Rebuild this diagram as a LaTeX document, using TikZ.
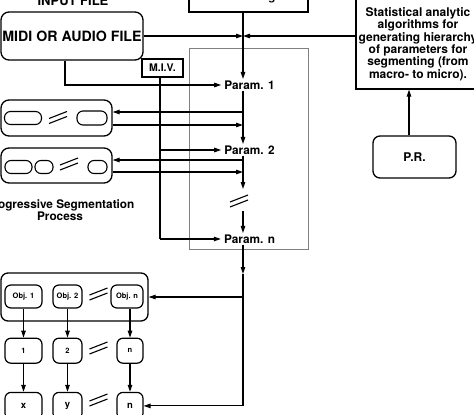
\documentclass[tikz,border=0pt]{standalone}
\usepackage{fontspec}
\setmainfont{TeX Gyre Heros}
\usetikzlibrary{arrows.meta,positioning}
\tikzset{
    flowbox/.style  = {rectangle, draw, line width=1.3pt, rounded corners=8pt,
                       inner sep=0pt, font=\bfseries},
    sqbox/.style    = {rectangle, draw, line width=1.3pt, inner sep=0pt, font=\bfseries},
    segpill/.style  = {rectangle, draw, line width=1.1pt, rounded corners=6pt,
                       minimum height=13pt, inner sep=0pt},
    objbox/.style   = {rectangle, draw, line width=1.2pt, rounded corners=6pt,
                       minimum height=23pt, inner sep=0pt,
                       font=\bfseries\fontsize{7.5}{8}\selectfont},
    paramlbl/.style = {font=\bfseries\fontsize{11.8}{12}\selectfont,
                       inner xsep=3pt, inner ysep=1.5pt},
    flow/.style     = {-{Triangle[length=7pt,width=4.5pt]}, line width=1.1pt},
    link/.style     = {line width=1.1pt},
    pframe/.style   = {rectangle, draw=gray, line width=0.9pt, inner sep=0pt}
}
\newcommand{\gapmark}[2]{%
  \draw[line width=1.1pt] (#1-9,#2+1) -- (#1+9,#2-6) (#1-9,#2+6) -- (#1+9,#2-1);}

\begin{document}
\begin{tikzpicture}[x=1pt, y=-1pt]
\useasboundingbox (0,0) rectangle (474,415);
\clip (0,0) rectangle (474,415);

% frame round the parameters
\node[pframe, minimum width=119pt, minimum height=201pt] (parframe) at (248.5,148.5) {};

% inputs
\node[font=\bfseries\fontsize{13}{14}\selectfont, anchor=base] (intitle) at (73,5.5) {INPUT FILE};
\node[flowbox, minimum width=142pt, minimum height=48pt,
      font=\bfseries\fontsize{14.2}{16}\selectfont] (midi) at (72,36) {MIDI OR AUDIO FILE};
\node[sqbox, minimum width=41pt, minimum height=18pt,
      font=\bfseries\fontsize{10.5}{12}\selectfont] (miv) at (162.5,68) {M.I.V.};
\node[sqbox, minimum width=119pt, minimum height=42pt] (segbox) at (248.5,-9) {};
\node[font=\bfseries\fontsize{11.5}{12}\selectfont, anchor=base, inner sep=0pt] (segtxt) at (272,0.5) {g};
\node[sqbox, minimum width=124pt, minimum height=119pt] (stat) at (418,29.5) {};
\node[align=center, font=\bfseries\fontsize{12}{12.4}\selectfont] (stattxt) at (418,44)
   {Statistical analytic\\algorithms for\\generating hierarchy\\of parameters for\\segmenting (from\\macro- to micro).};
\node[flowbox, rounded corners=7pt, minimum width=83pt, minimum height=42pt,
      font=\bfseries\fontsize{12}{12}\selectfont] (pr) at (414.5,157) {P.R.};

% parameter column
\coordinate (spine) at (243,0);
\node[paramlbl] (p1) at (249.5,85)  {Param. 1};
\node[paramlbl] (p2) at (249.5,150) {Param. 2};
\node[paramlbl] (pn) at (249.5,239) {Param. n};

% segmentation levels
\node[flowbox, minimum width=111pt, minimum height=36pt] (lev1) at (56.5,118) {};
\node[segpill, minimum width=37pt] (s11) at (23,118) {};
\node[segpill, minimum width=30pt, minimum height=14pt] (s12) at (92,118) {};
\node[flowbox, minimum width=111pt, minimum height=35pt] (lev2) at (56.5,165.5) {};
\node[segpill, minimum width=27pt] (s21) at (18.5,167) {};
\node[segpill, minimum width=18pt] (s22) at (44,167) {};
\node[segpill, minimum width=19pt] (s23) at (97.5,167) {};
\node[align=center, font=\bfseries\fontsize{11.8}{12.5}\selectfont] (proclbl) at (60,210)
   {Progressive Segmentation\\Process};

% objects
\node[flowbox, rounded corners=7pt, minimum width=147pt, minimum height=48pt] (objs) at (74.5,297) {};
\node[objbox, minimum width=37pt] (ob1) at (23.5,296.5) {Obj. 1};
\node[objbox, minimum width=29pt] (ob2) at (67.5,296.5) {Obj. 2};
\node[objbox, minimum width=32pt] (obn) at (127,296.5) {Obj. n};
\node[objbox, minimum width=37pt, minimum height=25pt, below=29pt of ob1] (r21) {1};
\node[objbox, minimum width=29pt, minimum height=25pt, below=29pt of ob2] (r22) {2};
\node[objbox, minimum width=26pt, minimum height=25pt, below=29pt of obn, xshift=3pt] (r2n) {n};
\node[objbox, minimum width=37pt, minimum height=27pt, below=28pt of r21,
      font=\bfseries\fontsize{9.5}{10}\selectfont] (r31) {x};
\node[objbox, minimum width=29pt, minimum height=27pt, below=28pt of r22,
      font=\bfseries\fontsize{9.5}{10}\selectfont] (r32) {y};
\node[objbox, minimum width=26pt, minimum height=27pt, below=28pt of r2n,
      font=\bfseries\fontsize{9.5}{10}\selectfont] (r3n) {n};

% connectors
\draw[flow] (spine |- segbox.south) -- (spine |- p1.north);
\draw[flow] (midi.east) -- (midi.east -| spine);
\draw[flow] (stat.west |- midi.east) -- (midi.east -| spine);
\draw[flow] ([xshift=-7pt]midi.south) |- (p1.west);
\coordinate (mivfoot) at ([xshift=-2.5pt]miv.south);
\draw[link] (mivfoot) -- (mivfoot |- pn.west);
\draw[flow] (mivfoot |- p2.west) -- (p2.west);
\draw[flow] (mivfoot |- pn.west) -- (pn.west);
\draw[flow] ([xshift=-5.5pt]pr.north) -- ([xshift=-5.5pt]pr.north |- stat.south);

\draw[flow] (spine |- p1.south) -- (spine |- p2.north);
\foreach \lev/\yin/\yout in {lev1/112/125, lev2/160/172} {
   \coordinate (tapin)  at (243,\yin);
   \coordinate (tapout) at (243,\yout);
   \draw[flow] (tapin) -- (tapin -| \lev.east);
   \draw[flow] (tapout -| \lev.east) -- (tapout);
}
\coordinate (cut1) at (243,189);
\coordinate (cut2) at (243,211);
\draw[flow] (spine |- p2.south) -- (cut1);
\draw[flow] (cut2) -- (spine |- pn.north);
\coordinate (drop) at (243,274);
\draw[flow] (spine |- pn.south) -- (drop);
\draw[flow] (drop) |- (r3n.east);
\draw[flow] (drop |- objs.east) -- (objs.east);

\foreach \a/\b in {ob1/r21, ob2/r22, r21/r31, r22/r32, r2n/r3n}
   \draw[flow] (\a) -- (\b);
\draw[flow] (obn.south -| r2n) -- (r2n.north);

% break marks
\foreach \gx/\gy in {58/117.5, 69/164, 239/201, 98.5/294, 98.5/348, 98.5/400}
   {\gapmark{\gx}{\gy}}
\end{tikzpicture}
\end{document}
